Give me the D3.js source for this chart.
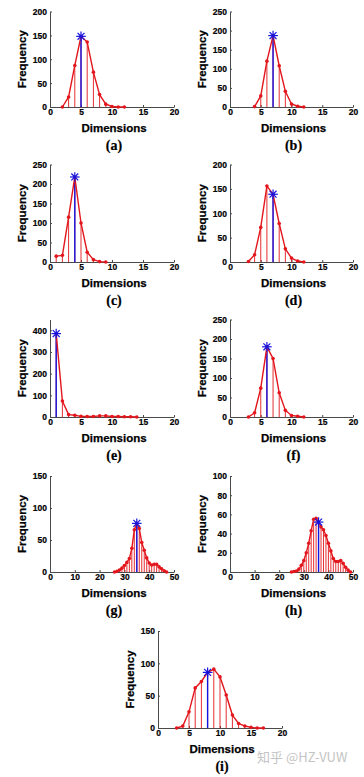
<!DOCTYPE html>
<html>
<head>
<meta charset="utf-8">
<script src="https://cdn.jsdelivr.net/npm/d3@7"></script>
<style>
  html, body { margin: 0; padding: 0; background: #fff; }
  svg { display: block; }
</style>
</head>
<body>
<svg id="chart" width="364" height="777"></svg>
<script>
// ---------- DATA ----------
const dimsA = [2,3,4,5,6,7,8,9,10,11,12];
const freqA = [0,21,87,148,136,73,26,6,1,0,0];
const starA = 5;

const dimsB = [4,5,6,7,8,9,10,11,12];
const freqB = [1,29,120,187,108,41,8,2,0];
const starB = 7;

const dimsC = [1,2,3,4,5,6,7,8,9];
const freqC = [15,17,115,218,100,25,6,1,0];
const starC = 4;

const dimsD = [3,4,5,6,7,8,9,10,11,12];
const freqD = [1,15,71,156,139,79,27,8,2,0];
const starD = 7;

const dimsE = [1,2,3,4,5,6,7,8,9,10,11,12,13,14];
const freqE = [385,74,11,8,3,2,2,5,5,2,2,1,1,0];
const starE = 1;

const dimsF = [3,4,5,6,7,8,9,10,11,12];
const freqF = [0,11,74,180,150,62,17,4,2,0];
const starF = 6;

const dimsG = [26,27,28,29,30,31,32,33,34,35,36,37,38,39,40,41,42,43,44,45,46,47];
const freqG = [0,1,3,6,10,15,21,37,66,76,68,46,34,22,14,11,12,12,8,5,2,0];
const starG = 35;

const dimsH = [25,26,27,28,29,30,31,32,33,34,35,36,37,38,39,40,41,42,43,44,45,46,47,48,49];
const freqH = [0,0.5,1,3,7,12,20,30,43,55,56,52,47,44,38,30,22,14,11,11,12,9,5,2,0];
const starH = 36;

const dimsI = [3,4,5,6,7,8,9,10,11,12,13,14,15,16,17];
const freqI = [0,3,25,62,72,86,91,79,51,20,7,3,1,0,0];
const starI = 8;

const xTicks20 = [0,5,10,15,20];
const xTicks50 = [0,10,20,30,40,50];
const yTicks200 = [0,50,100,150,200];
const yTicks250 = [0,50,100,150,200,250];
const yTicks400 = [0,100,200,300,400];
const yTicks150 = [0,50,100,150];
const yTicks100 = [0,20,40,60,80,100];

const captions = ["(a)","(b)","(c)","(d)","(e)","(f)","(g)","(h)","(i)"];

// ---------- LAYOUT ----------
const cols = { L:[50,174], R:[230,353], C:[158,282] };
const rows = [[11.5,107],[164.5,262],[319.5,417],[476,572],[631,728]];

const panels = [
  {dims:dimsA, freq:freqA, star:starA, xMax:20, xTicks:xTicks20, yMax:200, yTicks:yTicks200, col:'L', row:0},
  {dims:dimsB, freq:freqB, star:starB, xMax:20, xTicks:xTicks20, yMax:250, yTicks:yTicks250, col:'R', row:0},
  {dims:dimsC, freq:freqC, star:starC, xMax:20, xTicks:xTicks20, yMax:250, yTicks:yTicks250, col:'L', row:1},
  {dims:dimsD, freq:freqD, star:starD, xMax:20, xTicks:xTicks20, yMax:200, yTicks:yTicks200, col:'R', row:1},
  {dims:dimsE, freq:freqE, star:starE, xMax:20, xTicks:xTicks20, yMax:450, yTicks:yTicks400, col:'L', row:2},
  {dims:dimsF, freq:freqF, star:starF, xMax:20, xTicks:xTicks20, yMax:250, yTicks:yTicks250, col:'R', row:2},
  {dims:dimsG, freq:freqG, star:starG, xMax:50, xTicks:xTicks50, yMax:150, yTicks:yTicks150, col:'L', row:3},
  {dims:dimsH, freq:freqH, star:starH, xMax:50, xTicks:xTicks50, yMax:100, yTicks:yTicks100, col:'R', row:3},
  {dims:dimsI, freq:freqI, star:starI, xMax:20, xTicks:xTicks20, yMax:150, yTicks:yTicks150, col:'C', row:4}
];

const RED = "#e2161c";
const BLUE = "#1414e0";
const AXIS = "#4a4a4a";

const svg = d3.select("#chart");

panels.forEach((p, i) => {
  const [x0, x1] = cols[p.col];
  const [y0, y1] = rows[p.row];
  const x = d3.scaleLinear().domain([0, p.xMax]).range([x0, x1]);
  const y = d3.scaleLinear().domain([0, p.yMax]).range([y1, y0]);
  const g = svg.append("g");

  // axes
  const xAxis = d3.axisBottom(x).tickValues(p.xTicks).tickSizeInner(-2).tickSizeOuter(0).tickPadding(3);
  const yAxis = d3.axisLeft(y).tickValues(p.yTicks).tickSizeInner(-2).tickSizeOuter(0).tickPadding(3);
  const gx = g.append("g").attr("transform", `translate(0,${y1})`).call(xAxis);
  const gy = g.append("g").attr("transform", `translate(${x0},0)`).call(yAxis);
  [gx, gy].forEach(a => {
    a.select(".domain").attr("stroke", AXIS).attr("stroke-width", 1);
    a.selectAll(".tick line").attr("stroke", AXIS);
    a.selectAll(".tick text")
      .attr("fill", "#000")
      .attr("stroke", "#000").attr("stroke-width", 0.2)
      .style("font-family", "'Liberation Sans', Arial, sans-serif")
      .style("font-weight", "bold")
      .style("font-size", "8.5px");
  });
  gy.selectAll(".tick text").attr("dy", "0.35em");
  gx.selectAll(".tick text").attr("dy", "0.6em");

  const pts = p.dims.map((d, k) => ({d, f: p.freq[k]}));

  // red stems
  g.append("g").selectAll("line").data(pts).join("line")
    .attr("x1", v => x(v.d)).attr("x2", v => x(v.d))
    .attr("y1", y(0)).attr("y2", v => y(v.f))
    .attr("stroke", RED).attr("stroke-width", 0.9);

  // blue stem at selected dimension
  const sv = pts.find(v => v.d === p.star);
  g.append("line")
    .attr("x1", x(sv.d)).attr("x2", x(sv.d))
    .attr("y1", y(0)).attr("y2", y(sv.f))
    .attr("stroke", BLUE).attr("stroke-width", 1.4);

  // red line
  const line = d3.line().x(v => x(v.d)).y(v => y(v.f));
  g.append("path").datum(pts).attr("d", line)
    .attr("fill", "none").attr("stroke", RED).attr("stroke-width", 1.4);

  // red markers
  g.append("g").selectAll("circle").data(pts).join("circle")
    .attr("cx", v => x(v.d)).attr("cy", v => y(v.f)).attr("r", 1.8)
    .attr("fill", RED);

  // blue asterisk
  const sx = x(sv.d), sy = y(sv.f), r = 4.8, rd = r * 0.72;
  const star = g.append("g").attr("stroke", BLUE).attr("stroke-width", 1.2);
  [[-r,0,r,0],[0,-r,0,r],[-rd,-rd,rd,rd],[-rd,rd,rd,-rd]].forEach(s => {
    star.append("line").attr("x1", sx+s[0]).attr("y1", sy+s[1]).attr("x2", sx+s[2]).attr("y2", sy+s[3]);
  });

  // axis titles
  g.append("text")
    .attr("x", (x0 + x1) / 2 + 2).attr("y", y1 + 25)
    .attr("text-anchor", "middle")
    .style("font-family", "'Liberation Sans', Arial, sans-serif")
    .style("font-weight", "bold").style("font-size", "11.5px")
    .attr("fill", "#000").attr("stroke", "#000").attr("stroke-width", 0.25)
    .text("Dimensions");
  g.append("text")
    .attr("transform", `translate(${x0 - 24},${(y0 + y1) / 2}) rotate(-90)`)
    .attr("text-anchor", "middle")
    .style("font-family", "'Liberation Sans', Arial, sans-serif")
    .style("font-weight", "bold").style("font-size", "11.5px")
    .attr("fill", "#000").attr("stroke", "#000").attr("stroke-width", 0.25)
    .text("Frequency");
  // caption
  g.append("text")
    .attr("x", (x0 + x1) / 2 + 2).attr("y", y1 + 43)
    .attr("text-anchor", "middle")
    .style("font-family", "'Liberation Serif', 'Times New Roman', serif")
    .style("font-weight", "bold").style("font-size", "14px")
    .attr("fill", "#000").attr("stroke", "#000").attr("stroke-width", 0.2)
    .text(captions[i]);
});

// watermark
svg.append("text")
  .attr("x", 257).attr("y", 762)
  .style("font-family", "'Noto Sans CJK SC', sans-serif")
  .style("font-size", "13px").attr("fill", "#c4c4c4")
  .text("知乎 @HZ-VUW");
</script>
</body>
</html>
